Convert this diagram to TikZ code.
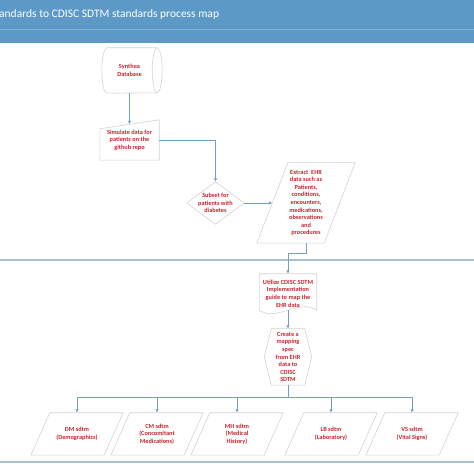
\documentclass[tikz,border=0pt]{standalone}
\usepackage{fontspec}
\setmainfont{Carlito}
\usetikzlibrary{positioning,arrows.meta}
\definecolor{mybar}{RGB}{93,153,199}
\definecolor{mybarline}{RGB}{128,178,214}
\definecolor{mysep}{RGB}{168,192,212}
\definecolor{myflow}{RGB}{115,158,200}
\definecolor{myred}{RGB}{198,36,46}

\begin{document}
\begin{tikzpicture}[x=1pt,y=1pt,
  box/.style={inner sep=0pt, align=center, text=myred, font=\fontsize{6.3}{7.6}\selectfont\bfseries},
  outline/.style={draw=gray!35, line width=0.6pt},
  flow/.style={draw=myflow, line width=0.7pt, -{Latex[length=3.5pt,width=3.5pt]}},
  sep/.style={draw=mysep, line width=1.2pt}]
  \useasboundingbox (0,0) rectangle (474,474);
  % header band
  \fill[mybar] (0,431) rectangle (474,474);
  \draw[mybarline, line width=0.6pt] (0,445) -- (474,445);
  \node[anchor=west, text=white, font=\fontsize{11.5}{13}\selectfont, inner sep=0pt] (title) at (-1,460) {andards to CDISC SDTM standards process map};
  \draw[sep] (0,214) -- (474,214);
  \draw[sep] (0,12) -- (474,12);

  % first part
  \node[box, minimum width=55, minimum height=45] (db) at (129.5,403.5) {Synthea\\Database};
  \draw[outline] ([xshift=5]db.north west) -- (db.north east) arc[start angle=90, end angle=-90, x radius=5, y radius=22.5]
    -- ([xshift=5]db.south west) arc[start angle=270, end angle=90, x radius=5, y radius=22.5] -- cycle;
  \draw[outline] (db.north east) arc[start angle=90, end angle=270, x radius=5, y radius=22.5];

  \node[box, minimum width=59, minimum height=40] (mi) at (129.5,334) {Simulate data for\\patients on the\\github repo};
  \draw[outline] ([yshift=-9]mi.north west) -- (mi.north east) -- (mi.south east) -- (mi.south west) -- cycle;
  \draw[flow] (db.south) -- ([yshift=-4.5]mi.north);

  \node[box, minimum width=57, minimum height=42] (sub) at (215.5,271) {Subset for\\patients with\\diabetes};
  \draw[outline] (sub.north) -- (sub.east) -- (sub.south) -- (sub.west) -- cycle;
  \draw[flow] (mi.east) -| (sub.north);

  \node[box, minimum width=98, minimum height=80] (ehr) at (306,271) {Extract~ EHR\\data such as\\Patients,\\conditions,\\encounters,\\medications,\\observations\\and\\procedures};
  \draw[outline] ([xshift=31]ehr.north west) -- (ehr.north east) -- ([xshift=-31]ehr.south east) -- (ehr.south west) -- cycle;
  \draw[flow] (sub.east) -- ([xshift=15.5]ehr.west);

  % second part
  \node[box, minimum width=57, minimum height=39] (doc) at (288,180.5) {Utilize CDISC SDTM\\Implementation\\guide to map the\\EHR data};
  \draw[outline] (doc.north west) -- (doc.north east) -- ([yshift=3]doc.south east)
    .. controls +(-18.5,12) and +(18,-12) .. ([yshift=3]doc.south west) -- cycle;
  \draw[flow] (ehr.south) -- ++(0,-10) -| (doc.north);

  \node[box, minimum width=47, minimum height=56] (hex) at (288,117) {Create a\\mapping\\spec\\from EHR\\data to\\CDISC\\SDTM};
  \draw[outline] ([xshift=7]hex.north west) -- ([xshift=-7]hex.north east) -- (hex.east)
    -- ([xshift=-7]hex.south east) -- ([xshift=7]hex.south west) -- (hex.west) -- cycle;
  \draw[flow] ([yshift=3]doc.south) -- (hex.north);

  \draw[myflow, line width=0.7pt] (hex.south) -- ++(0,-12) coordinate (bus);
  \foreach \n/\x/\t in {dm/77/{DM sdtm\\(Demographics)}, cm/157/{CM sdtm\\(Concomitant\\Medications)},
    mh/237/{MH sdtm\\(Medical\\History)}, lb/331/{LB sdtm\\(Laboratory)}, vs/412/{VS sdtm\\(Vital Signs)}}
  {
    \node[box, minimum width=92, minimum height=42] (\n) at (\x,40) {\t};
    \draw[outline] ([xshift=19]\n.north west) -- (\n.north east) -- ([xshift=-19]\n.south east) -- (\n.south west) -- cycle;
    \draw[flow] (bus) -| (\n.north);
  }
\end{tikzpicture}
\end{document}
